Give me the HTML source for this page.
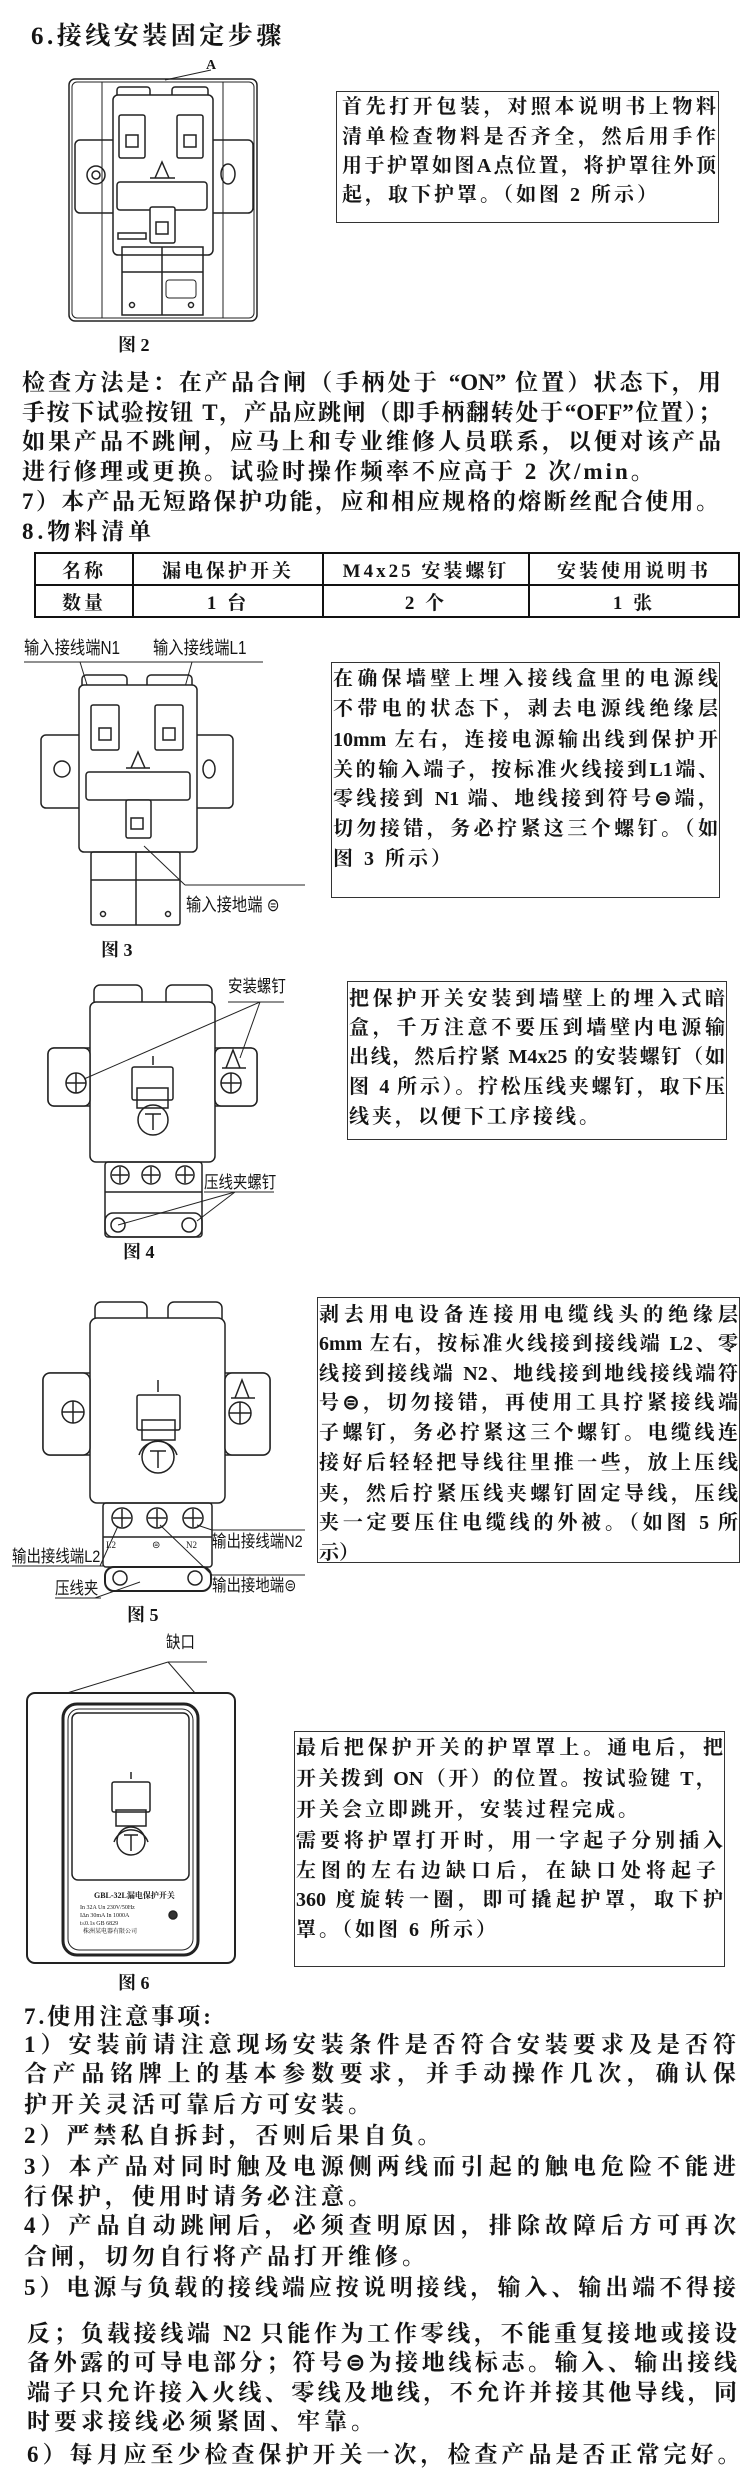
<!DOCTYPE html>
<html><head><meta charset="utf-8"><style>
*{margin:0;padding:0;box-sizing:border-box}
html,body{width:750px;height:2479px;background:#fff;overflow:hidden}
body{position:relative;font-family:"Liberation Serif","Noto Serif CJK SC",serif;color:#151515}
.l{position:absolute;white-space:nowrap;text-align:justify;text-align-last:justify}
.s{position:absolute;white-space:nowrap}
.b{font-size:20px;line-height:30px;height:30px;font-weight:bold}
.p{font-size:23px;line-height:30px;height:30px;font-weight:bold}
.box{position:absolute;border:1.5px solid #333}
.lab{position:absolute;white-space:nowrap;font-size:15px;line-height:18px;font-family:"Liberation Sans","Noto Sans CJK SC",sans-serif;transform:scaleX(0.85);transform-origin:0 0}
.cap{position:absolute;font-size:18px;font-weight:bold;line-height:20px;white-space:nowrap}
table{position:absolute;left:34px;top:552px;width:706px;height:65px;border-collapse:collapse}
td{border:2.5px solid #111;text-align:center;font-size:19px;letter-spacing:3px;height:32px;font-weight:bold}
</style></head><body>

<div class="s" style="left:31px;top:23px;font-size:25px;line-height:28px;letter-spacing:3.5px;font-weight:bold">6.接线安装固定步骤</div>

<svg style="position:absolute;left:0;top:0" width="750" height="2479" fill="none" stroke="#222" stroke-width="1.5">
<!-- fig2 -->
<line x1="211" y1="70" x2="165" y2="80" stroke-width="1"/>
<rect x="69" y="79" width="188" height="242" rx="6"/>
<rect x="72" y="82" width="182" height="236" rx="5" stroke-width="1"/>
<line x1="102" y1="82" x2="102" y2="318" stroke-width="1"/>
<line x1="223" y1="82" x2="223" y2="318" stroke-width="1"/>
<rect x="117" y="87" width="33" height="15" rx="3"/><rect x="172" y="87" width="36" height="15" rx="3"/>
<rect x="75" y="140" width="178" height="73" rx="5"/>
<rect x="113" y="95" width="100" height="160" rx="5" fill="#fff"/>
<circle cx="96" cy="175" r="9"/><circle cx="96" cy="175" r="4"/>
<ellipse cx="228" cy="174" rx="7" ry="10"/>
<rect x="119" y="115" width="26" height="43" rx="2"/><rect x="126" y="135" width="12" height="12"/>
<rect x="177" y="115" width="26" height="43" rx="2"/><rect x="184" y="135" width="12" height="12"/>
<path d="M155 178 L162 162 L169 178 M150 178 L175 178"/>
<rect x="117" y="182" width="90" height="28" rx="3"/>
<rect x="150" y="207" width="25" height="36" rx="2" fill="#fff"/><rect x="156" y="222" width="12" height="12"/>
<rect x="118" y="233" width="28" height="6"/>
<rect x="122" y="247" width="81" height="68"/>
<line x1="162" y1="247" x2="162" y2="315"/><line x1="122" y1="272" x2="203" y2="272"/>
<circle cx="132" cy="305" r="2.5"/><circle cx="191" cy="305" r="2.5"/>
<rect x="166" y="280" width="30" height="18" rx="3" stroke-width="1"/>

<!-- fig3 -->
<line x1="24" y1="662" x2="263" y2="662" stroke-width="1"/>
<line x1="80" y1="662" x2="103" y2="737" stroke-width="1"/>
<line x1="192" y1="662" x2="171" y2="737" stroke-width="1"/>
<rect x="82" y="675" width="45" height="22" rx="4"/><rect x="147" y="675" width="45" height="22" rx="4"/>
<rect x="41" y="735" width="192" height="73" rx="5"/>
<rect x="79" y="685" width="118" height="167" rx="5" fill="#fff"/>
<circle cx="62" cy="769" r="8"/><ellipse cx="209" cy="769" rx="6" ry="9"/>
<rect x="91" y="705" width="28" height="45" rx="2"/><rect x="99" y="728" width="12" height="12"/>
<rect x="155" y="705" width="28" height="45" rx="2"/><rect x="163" y="728" width="12" height="12"/>
<path d="M131 768 L138 752 L145 768 M126 768 L150 768"/>
<rect x="86" y="772" width="104" height="28" rx="3"/>
<rect x="126" y="800" width="25" height="38" rx="2" fill="#fff"/><rect x="131" y="818" width="12" height="11"/>
<rect x="91" y="852" width="89" height="73" rx="2"/>
<line x1="136" y1="852" x2="136" y2="925"/><line x1="91" y1="880" x2="180" y2="880"/>
<circle cx="103" cy="914" r="2.5"/><circle cx="168" cy="914" r="2.5"/>
<line x1="185" y1="885" x2="305" y2="885" stroke-width="1"/>
<line x1="185" y1="885" x2="144" y2="846" stroke-width="1"/>

<!-- fig4 -->
<rect x="94" y="985" width="48" height="22" rx="6"/><rect x="166" y="985" width="46" height="22" rx="6"/>
<rect x="48" y="1048" width="209" height="58" rx="6"/>
<rect x="90" y="1002" width="125" height="160" rx="6" fill="#fff"/>
<rect x="48" y="1048" width="42" height="58" rx="6" fill="#fff"/><rect x="215" y="1048" width="42" height="58" rx="6" fill="#fff"/>
<circle cx="76" cy="1083" r="10"/><path d="M66 1083H86M76 1073V1093"/>
<circle cx="231" cy="1083" r="10"/><path d="M221 1083H241M231 1073V1093"/>
<path d="M226 1068 L233 1050 L240 1068 M222 1068 H246"/>
<line x1="153" y1="1056" x2="153" y2="1065"/>
<rect x="132" y="1067" width="41" height="33" rx="2"/><rect x="137" y="1088" width="31" height="20"/>
<circle cx="153" cy="1120" r="15"/><path d="M145 1114H161M153 1114V1130"/>
<rect x="105" y="1162" width="97" height="75" rx="3"/><line x1="105" y1="1192" x2="202" y2="1192"/>
<circle cx="120" cy="1175" r="9"/><circle cx="151" cy="1175" r="9"/><circle cx="185" cy="1175" r="9"/>
<path d="M112 1175H128M120 1167V1183M143 1175H159M151 1167V1183M177 1175H193M185 1167V1183"/>
<rect x="105" y="1213" width="97" height="24" rx="8"/>
<circle cx="118" cy="1225" r="7"/><circle cx="189" cy="1225" r="7"/>
<line x1="228" y1="1002" x2="284" y2="1002" stroke-width="1"/>
<line x1="260" y1="1002" x2="84" y2="1079" stroke-width="1"/>
<line x1="260" y1="1002" x2="240" y2="1058" stroke-width="1"/>
<line x1="204" y1="1192" x2="274" y2="1192" stroke-width="1"/>
<line x1="235" y1="1192" x2="118" y2="1225" stroke-width="1"/>
<line x1="235" y1="1192" x2="197" y2="1221" stroke-width="1"/>

<!-- fig5 -->
<rect x="95" y="1302" width="52" height="22" rx="6"/><rect x="168" y="1302" width="54" height="22" rx="6"/>
<rect x="43" y="1373" width="227" height="82" rx="7"/>
<rect x="90" y="1318" width="135" height="185" rx="7" fill="#fff"/>
<rect x="43" y="1373" width="47" height="82" rx="7" fill="#fff"/><rect x="225" y="1373" width="45" height="82" rx="7" fill="#fff"/>
<circle cx="73" cy="1412" r="11"/><path d="M62 1412H84M73 1401V1423"/>
<circle cx="240" cy="1413" r="11"/><path d="M229 1413H251M240 1402V1424"/>
<path d="M235 1398 L242 1380 L249 1398 M231 1398 H255"/>
<line x1="158" y1="1380" x2="158" y2="1392"/>
<rect x="137" y="1395" width="43" height="35" rx="2"/><rect x="142" y="1420" width="33" height="20"/>
<circle cx="158" cy="1457" r="16"/><path d="M150 1451H166M158 1451V1468"/>
<path d="M139 1455 A20 20 0 0 1 177 1455"/>
<rect x="103" y="1503" width="109" height="64" rx="3"/><line x1="103" y1="1537" x2="212" y2="1537"/>
<circle cx="122" cy="1518" r="10"/><circle cx="157" cy="1518" r="10"/><circle cx="193" cy="1518" r="10"/>
<path d="M113 1518H131M122 1509V1527M148 1518H166M157 1509V1527M184 1518H202M193 1509V1527"/>
<rect x="105" y="1567" width="106" height="24" rx="9" stroke-width="2"/>
<circle cx="120" cy="1578" r="7"/><circle cx="195" cy="1578" r="7"/>
<line x1="12" y1="1566" x2="103" y2="1566" stroke-width="1"/>
<line x1="100" y1="1566" x2="118" y2="1526" stroke-width="1"/>
<line x1="212" y1="1530" x2="305" y2="1530" stroke-width="1"/>
<line x1="212" y1="1530" x2="197" y2="1525" stroke-width="1"/>
<line x1="212" y1="1575" x2="305" y2="1575" stroke-width="1"/>
<line x1="212" y1="1575" x2="160" y2="1525" stroke-width="1"/>
<line x1="55" y1="1598" x2="101" y2="1598" stroke-width="1"/>
<line x1="95" y1="1598" x2="140" y2="1582" stroke-width="1"/>

<!-- fig6 -->
<line x1="168" y1="1662" x2="207" y2="1662" stroke-width="1"/>
<line x1="168" y1="1662" x2="67" y2="1693" stroke-width="1"/>
<line x1="168" y1="1662" x2="195" y2="1693" stroke-width="1"/>
<rect x="27" y="1693" width="208" height="270" rx="8" stroke-width="2"/>
<rect x="63" y="1704" width="135" height="251" rx="14" stroke-width="3"/>
<rect x="68" y="1709" width="125" height="241" rx="11" stroke-width="1"/>
<rect x="72" y="1713" width="117" height="167" rx="6"/>
<line x1="131" y1="1772" x2="131" y2="1779"/>
<rect x="112" y="1782" width="38" height="30" rx="2"/><rect x="116" y="1810" width="30" height="16"/>
<circle cx="131" cy="1841" r="14"/><path d="M124 1835H138M131 1835V1851"/>
<path d="M114 1842 A18 18 0 0 1 148 1842"/>
<circle cx="173" cy="1915" r="4" fill="#333"/>
</svg>

<div class="s" style="left:206px;top:58px;font-size:14px;font-weight:bold">A</div>
<div class="cap" style="left:118px;top:335px">图 2</div>

<div class="box" style="left:336px;top:91px;width:383px;height:132px"></div>
<div class="l b" style="left:342px;top:92px;width:374px">首先打开包装，对照本说明书上物料</div>
<div class="l b" style="left:342px;top:122px;width:374px">清单检查物料是否齐全，然后用手作</div>
<div class="l b" style="left:342px;top:151px;width:374px">用于护罩如图A点位置，将护罩往外顶</div>
<div class="s b" style="left:342px;top:180px;letter-spacing:3px">起，取下护罩。（如图 2 所示）</div>

<div class="l p" style="left:22px;top:368px;width:699px">检查方法是：在产品合闸（手柄处于 “ON” 位置）状态下，用</div>
<div class="l p" style="left:22px;top:398px;width:699px">手按下试验按钮 T，产品应跳闸（即手柄翻转处于“OFF”位置）；</div>
<div class="l p" style="left:22px;top:427px;width:699px">如果产品不跳闸，应马上和专业维修人员联系，以便对该产品</div>
<div class="s p" style="left:22px;top:457px;letter-spacing:3px">进行修理或更换。试验时操作频率不应高于 2 次/min。</div>
<div class="l p" style="left:22px;top:487px;width:697px">7）本产品无短路保护功能，应和相应规格的熔断丝配合使用。</div>
<div class="s p" style="left:22px;top:517px;letter-spacing:4px">8.物料清单</div>

<table><tr><td style="width:98px">名称</td><td style="width:190px">漏电保护开关</td><td style="width:206px">M4x25 安装螺钉</td><td>安装使用说明书</td></tr>
<tr><td>数量</td><td>1 台</td><td>2 个</td><td>1 张</td></tr></table>

<div class="lab" style="left:24px;top:639px;font-size:18px">输入接线端N1</div>
<div class="lab" style="left:153px;top:639px;font-size:18px">输入接线端L1</div>
<div class="lab" style="left:186px;top:896px;font-size:18px">输入接地端 ⊜</div>
<div class="cap" style="left:101px;top:940px">图 3</div>

<div class="box" style="left:331px;top:662px;width:389px;height:236px"></div>
<div class="l b" style="left:333px;top:664px;width:385px">在确保墙壁上埋入接线盒里的电源线</div>
<div class="l b" style="left:333px;top:694px;width:385px">不带电的状态下，剥去电源线绝缘层</div>
<div class="l b" style="left:333px;top:725px;width:385px">10mm 左右，连接电源输出线到保护开</div>
<div class="l b" style="left:333px;top:755px;width:385px">关的输入端子，按标准火线接到L1端、</div>
<div class="l b" style="left:333px;top:784px;width:385px">零线接到 N1 端、地线接到符号⊜端，</div>
<div class="l b" style="left:333px;top:814px;width:385px">切勿接错，务必拧紧这三个螺钉。（如</div>
<div class="s b" style="left:333px;top:844px;letter-spacing:3px">图 3 所示）</div>

<div class="lab" style="left:228px;top:978px;font-size:17px">安装螺钉</div>
<div class="lab" style="left:204px;top:1174px;font-size:17px">压线夹螺钉</div>
<div class="cap" style="left:123px;top:1242px">图 4</div>

<div class="box" style="left:347px;top:981px;width:380px;height:159px"></div>
<div class="l b" style="left:349px;top:984px;width:376px">把保护开关安装到墙壁上的埋入式暗</div>
<div class="l b" style="left:349px;top:1013px;width:376px">盒，千万注意不要压到墙壁内电源输</div>
<div class="l b" style="left:349px;top:1042px;width:376px">出线，然后拧紧 M4x25 的安装螺钉（如</div>
<div class="l b" style="left:349px;top:1072px;width:376px">图 4 所示）。拧松压线夹螺钉，取下压</div>
<div class="s b" style="left:349px;top:1102px;letter-spacing:3px">线夹，以便下工序接线。</div>

<div class="lab" style="left:12px;top:1548px;font-size:17px">输出接线端L2</div>
<div class="lab" style="left:55px;top:1580px;font-size:17px">压线夹</div>
<div class="lab" style="left:212px;top:1533px;font-size:17px">输出接线端N2</div>
<div class="lab" style="left:212px;top:1577px;font-size:17px">输出接地端⊜</div>
<div class="s" style="left:106px;top:1540px;font-size:9px">L2</div>
<div class="s" style="left:152px;top:1540px;font-size:10px">⊜</div>
<div class="s" style="left:186px;top:1540px;font-size:9px">N2</div>
<div class="cap" style="left:127px;top:1605px">图 5</div>

<div class="box" style="left:317px;top:1297px;width:423px;height:266px"></div>
<div class="l b" style="left:319px;top:1300px;width:419px">剥去用电设备连接用电缆线头的绝缘层</div>
<div class="l b" style="left:319px;top:1329px;width:419px">6mm 左右，按标准火线接到接线端 L2、零</div>
<div class="l b" style="left:319px;top:1359px;width:419px">线接到接线端 N2、地线接到地线接线端符</div>
<div class="l b" style="left:319px;top:1388px;width:419px">号⊜，切勿接错，再使用工具拧紧接线端</div>
<div class="l b" style="left:319px;top:1418px;width:419px">子螺钉，务必拧紧这三个螺钉。电缆线连</div>
<div class="l b" style="left:319px;top:1448px;width:419px">接好后轻轻把导线往里推一些，放上压线</div>
<div class="l b" style="left:319px;top:1479px;width:419px">夹，然后拧紧压线夹螺钉固定导线，压线</div>
<div class="l b" style="left:319px;top:1508px;width:419px">夹一定要压住电缆线的外被。（如图 5 所</div>
<div class="s b" style="left:319px;top:1538px">示）</div>

<div class="lab" style="left:166px;top:1634px;font-size:17px">缺口</div>
<div class="s" style="left:94px;top:1890px;font-size:8px;font-weight:bold">GBL-32L漏电保护开关</div>
<div class="s" style="left:80px;top:1904px;font-size:6px;line-height:8px">In 32A  Un 230V/50Hz<br>IΔn 30mA  In 1000A<br>t≤0.1s  GB 6829<br>&nbsp;&nbsp;株洲某电器有限公司</div>
<div class="cap" style="left:118px;top:1973px">图 6</div>

<div class="box" style="left:294px;top:1731px;width:431px;height:236px"></div>
<div class="l b" style="left:296px;top:1733px;width:427px">最后把保护开关的护罩罩上。通电后，把</div>
<div class="l b" style="left:296px;top:1764px;width:420px">开关拨到 ON（开）的位置。按试验键 T，</div>
<div class="s b" style="left:296px;top:1795px;letter-spacing:3px">开关会立即跳开，安装过程完成。</div>
<div class="l b" style="left:296px;top:1826px;width:427px">需要将护罩打开时，用一字起子分别插入</div>
<div class="l b" style="left:296px;top:1856px;width:420px">左图的左右边缺口后，在缺口处将起子</div>
<div class="l b" style="left:296px;top:1885px;width:427px">360 度旋转一圈，即可撬起护罩，取下护</div>
<div class="s b" style="left:296px;top:1915px;letter-spacing:3px">罩。（如图 6 所示）</div>

<div class="s p" style="left:24px;top:2002px;letter-spacing:3px">7.使用注意事项:</div>
<div class="l p" style="left:24px;top:2030px;width:712px">1）安装前请注意现场安装条件是否符合安装要求及是否符</div>
<div class="l p" style="left:24px;top:2059px;width:712px">合产品铭牌上的基本参数要求，并手动操作几次，确认保</div>
<div class="s p" style="left:24px;top:2090px;letter-spacing:4px">护开关灵活可靠后方可安装。</div>
<div class="s p" style="left:24px;top:2121px;letter-spacing:4px">2）严禁私自拆封，否则后果自负。</div>
<div class="l p" style="left:24px;top:2152px;width:712px">3）本产品对同时触及电源侧两线而引起的触电危险不能进</div>
<div class="s p" style="left:24px;top:2182px;letter-spacing:4px">行保护，使用时请务必注意。</div>
<div class="l p" style="left:24px;top:2211px;width:712px">4）产品自动跳闸后，必须查明原因，排除故障后方可再次</div>
<div class="s p" style="left:24px;top:2242px;letter-spacing:4px">合闸，切勿自行将产品打开维修。</div>
<div class="l p" style="left:24px;top:2273px;width:712px">5）电源与负载的接线端应按说明接线，输入、输出端不得接</div>
<div class="l p" style="left:27px;top:2319px;width:710px">反；负载接线端 N2 只能作为工作零线，不能重复接地或接设</div>
<div class="l p" style="left:27px;top:2348px;width:710px">备外露的可导电部分；符号⊜为接地线标志。输入、输出接线</div>
<div class="l p" style="left:27px;top:2378px;width:710px">端子只允许接入火线、零线及地线，不允许并接其他导线，同</div>
<div class="s p" style="left:27px;top:2407px;letter-spacing:4px">时要求接线必须紧固、牢靠。</div>
<div class="s p" style="left:27px;top:2440px;letter-spacing:4px">6）每月应至少检查保护开关一次，检查产品是否正常完好。</div>
</body></html>
